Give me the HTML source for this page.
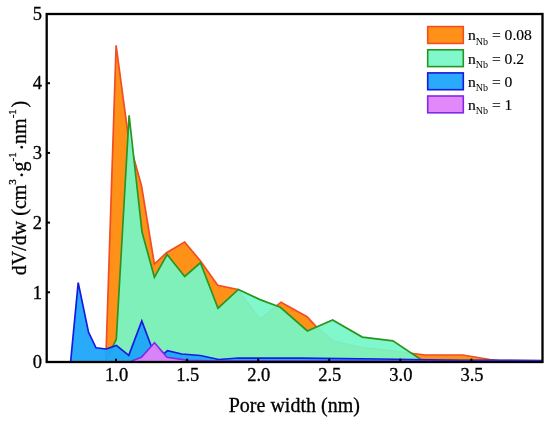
<!DOCTYPE html>
<html><head><meta charset="utf-8"><title>Pore width distribution</title>
<style>
html,body{margin:0;padding:0;background:#fff;}
body{width:550px;height:422px;overflow:hidden;position:relative;}
svg text{font-family:"Liberation Serif","Times New Roman",serif;fill:#000;stroke:#000;stroke-width:0.3px;}
</style></head><body>
<svg width="550" height="422" viewBox="0 0 550 422" style="position:absolute;left:0;top:0">
<rect width="550" height="422" fill="#fff"/>
<g clip-path="url(#c)">
<polygon points="105.8,361.0 116.1,45.4 128.8,140.0 141.5,185.8 154.4,264.1 166.5,252.8 184.6,242.0 200.5,261.0 217.7,285.3 237.8,289.4 260.0,319.2 281.0,302.2 307.0,316.7 316.0,326.3 333.0,341.0 361.0,347.3 394.0,351.0 425.0,355.0 462.7,355.0 490.0,359.5 500.0,360.8 542.0,360.8 542.0,362.0 105.8,362.0" fill="#ff9119" fill-opacity="1" stroke="none"/>
<polyline points="105.8,361.0 116.1,45.4 128.8,140.0 141.5,185.8 154.4,264.1 166.5,252.8 184.6,242.0 200.5,261.0 217.7,285.3 237.8,289.4 260.0,319.2 281.0,302.2 307.0,316.7 316.0,326.3 333.0,341.0 361.0,347.3 394.0,351.0 425.0,355.0 462.7,355.0 490.0,359.5 500.0,360.8 542.0,360.8" fill="none" stroke="#f24d23" stroke-width="1.7" stroke-linejoin="miter"/>

<polygon points="105.8,361.0 116.3,339.2 129.1,115.3 142.0,232.0 154.4,277.3 167.1,254.5 184.7,276.5 200.4,262.8 218.0,308.2 238.4,289.4 260.0,299.6 280.3,307.3 307.4,331.0 332.6,320.0 362.3,337.1 392.9,340.9 422.2,360.5 542.0,360.8 542.0,362.0 105.8,362.0" fill="#76f7c8" fill-opacity="0.93" stroke="none"/>
<polyline points="105.8,361.0 116.3,339.2 129.1,115.3 142.0,232.0 154.4,277.3 167.1,254.5 184.7,276.5 200.4,262.8 218.0,308.2 238.4,289.4 260.0,299.6 280.3,307.3 307.4,331.0 332.6,320.0 362.3,337.1 392.9,340.9 422.2,360.5 542.0,360.8" fill="none" stroke="#28961e" stroke-width="1.7" stroke-linejoin="miter"/>

<polygon points="70.7,361.0 78.2,282.6 88.5,332.1 96.0,347.8 106.2,349.0 116.4,345.4 128.8,355.4 141.8,321.0 151.0,345.5 164.3,353.5 167.5,350.7 181.7,354.0 200.3,355.5 218.8,359.5 238.5,358.0 300.0,358.2 380.0,359.0 460.0,360.3 542.0,360.5 542.0,362.0 70.7,362.0" fill="#1ea5fa" fill-opacity="0.95" stroke="none"/>
<polyline points="70.7,361.0 78.2,282.6 88.5,332.1 96.0,347.8 106.2,349.0 116.4,345.4 128.8,355.4 141.8,321.0 151.0,345.5 164.3,353.5 167.5,350.7 181.7,354.0 200.3,355.5 218.8,359.5 238.5,358.0 300.0,358.2 380.0,359.0 460.0,360.3 542.0,360.5" fill="none" stroke="#1818e0" stroke-width="1.7" stroke-linejoin="miter"/>

<polygon points="131.5,361.0 141.4,357.3 154.5,342.7 167.0,357.3 188.0,360.3 215.0,361.2 542.0,361.3 542.0,362.0 131.5,362.0" fill="#e182fa" fill-opacity="0.95" stroke="none"/>
<polyline points="131.5,361.0 141.4,357.3 154.5,342.7 167.0,357.3 188.0,360.3 215.0,361.2 542.0,361.3" fill="none" stroke="#8228e6" stroke-width="1.7" stroke-linejoin="miter"/>

</g>
<defs><clipPath id="c"><rect x="46.7" y="14" width="496" height="349"/></clipPath></defs>
<rect x="46.7" y="14" width="495.8" height="348" fill="none" stroke="#000" stroke-width="2.3"/>
<line x1="116.0" y1="362" x2="116.0" y2="358.7" stroke="#000" stroke-width="2"/>
<text x="116.6" y="381.3" font-size="18.5" text-anchor="middle">1.0</text>
<line x1="187.1" y1="362" x2="187.1" y2="358.7" stroke="#000" stroke-width="2"/>
<text x="187.7" y="381.3" font-size="18.5" text-anchor="middle">1.5</text>
<line x1="258.2" y1="362" x2="258.2" y2="358.7" stroke="#000" stroke-width="2"/>
<text x="258.8" y="381.3" font-size="18.5" text-anchor="middle">2.0</text>
<line x1="329.2" y1="362" x2="329.2" y2="358.7" stroke="#000" stroke-width="2"/>
<text x="329.8" y="381.3" font-size="18.5" text-anchor="middle">2.5</text>
<line x1="400.3" y1="362" x2="400.3" y2="358.7" stroke="#000" stroke-width="2"/>
<text x="400.9" y="381.3" font-size="18.5" text-anchor="middle">3.0</text>
<line x1="471.4" y1="362" x2="471.4" y2="358.7" stroke="#000" stroke-width="2"/>
<text x="472.0" y="381.3" font-size="18.5" text-anchor="middle">3.5</text>
<text x="42" y="368.2" font-size="18.5" text-anchor="end">0</text>
<line x1="46.7" y1="292.3" x2="50" y2="292.3" stroke="#000" stroke-width="2"/>
<text x="42" y="298.5" font-size="18.5" text-anchor="end">1</text>
<line x1="46.7" y1="222.6" x2="50" y2="222.6" stroke="#000" stroke-width="2"/>
<text x="42" y="228.8" font-size="18.5" text-anchor="end">2</text>
<line x1="46.7" y1="152.9" x2="50" y2="152.9" stroke="#000" stroke-width="2"/>
<text x="42" y="159.1" font-size="18.5" text-anchor="end">3</text>
<line x1="46.7" y1="83.2" x2="50" y2="83.2" stroke="#000" stroke-width="2"/>
<text x="42" y="89.4" font-size="18.5" text-anchor="end">4</text>
<text x="42" y="19.7" font-size="18.5" text-anchor="end">5</text>
<text x="294.3" y="412" font-size="20" text-anchor="middle">Pore width (nm)</text>
<text transform="translate(26.2,188) rotate(-90)" font-size="20" text-anchor="middle">dV/dw (cm<tspan font-size="11" dy="-10">3</tspan><tspan dy="12.8" dx="1">·</tspan><tspan dy="-2.8">g</tspan><tspan font-size="11" dy="-10">-1</tspan><tspan dy="12.8" dx="1.7">·</tspan><tspan dy="-2.8">nm</tspan><tspan font-size="11" dy="-10">-1</tspan><tspan dy="10" dx="1.7">)</tspan></text>
<rect x="427.7" y="26.6" width="35.6" height="16.8" fill="#ff9119" fill-opacity="1" stroke="#f24d23" stroke-width="1.6"/>
<text x="468" y="40.3" font-size="15.6" style="stroke-width:0.15px">n<tspan font-size="10" dy="4.3" style="stroke-width:0">Nb</tspan><tspan dy="-4.3"> = 0.08</tspan></text>
<rect x="427.7" y="49.8" width="35.6" height="16.8" fill="#76f7c8" fill-opacity="0.93" stroke="#28961e" stroke-width="1.6"/>
<text x="468" y="63.5" font-size="15.6" style="stroke-width:0.15px">n<tspan font-size="10" dy="4.3" style="stroke-width:0">Nb</tspan><tspan dy="-4.3"> = 0.2</tspan></text>
<rect x="427.7" y="72.9" width="35.6" height="16.8" fill="#1ea5fa" fill-opacity="0.95" stroke="#1818e0" stroke-width="1.6"/>
<text x="468" y="86.6" font-size="15.6" style="stroke-width:0.15px">n<tspan font-size="10" dy="4.3" style="stroke-width:0">Nb</tspan><tspan dy="-4.3"> = 0</tspan></text>
<rect x="427.7" y="96.0" width="35.6" height="16.8" fill="#e182fa" fill-opacity="0.95" stroke="#8228e6" stroke-width="1.6"/>
<text x="468" y="109.7" font-size="15.6" style="stroke-width:0.15px">n<tspan font-size="10" dy="4.3" style="stroke-width:0">Nb</tspan><tspan dy="-4.3"> = 1</tspan></text>
</svg>
</body></html>
